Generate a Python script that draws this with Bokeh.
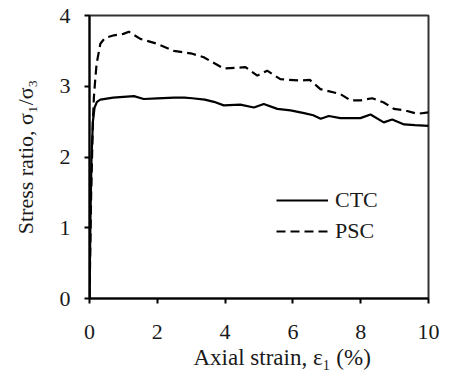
from bokeh.plotting import figure
from bokeh.embed import file_html
from bokeh.resources import INLINE
from bokeh.models import Range1d, FixedTicker, Legend, LegendItem, Title

# Data
ctc_strain = [0.0, 0.03, 0.06, 0.10, 0.15, 0.22, 0.32, 0.7, 1.0, 1.31, 1.6, 2.0, 2.5, 2.8, 3.03, 3.4, 3.67,
              3.96, 4.45, 4.85, 5.14, 5.54, 5.93, 6.33, 6.6, 6.82, 7.06, 7.4, 7.99, 8.29, 8.68, 8.93, 9.28, 9.6, 10.0]
ctc_ratio = [0.0, 1.2, 2.0, 2.5, 2.7, 2.78, 2.81, 2.84, 2.85, 2.86, 2.82, 2.83, 2.84, 2.84, 2.83, 2.81, 2.78,
             2.73, 2.74, 2.70, 2.75, 2.68, 2.66, 2.62, 2.59, 2.54, 2.58, 2.55, 2.55, 2.60, 2.49, 2.53, 2.46, 2.45, 2.44]

psc_strain = [0.0, 0.05, 0.10, 0.13, 0.17, 0.21, 0.32, 0.45, 0.72, 1.0, 1.16, 1.5, 2.0, 2.49, 3.03, 3.37,
              3.96, 4.3, 4.6, 4.95, 5.24, 5.63, 6.22, 6.5, 6.81, 7.4, 7.7, 7.99, 8.34, 8.68, 8.98, 9.3, 9.67, 10.0]
psc_ratio = [0.0, 1.5, 2.5, 2.85, 3.1, 3.32, 3.6, 3.68, 3.72, 3.74, 3.77, 3.67, 3.60, 3.50, 3.46, 3.41,
             3.25, 3.26, 3.27, 3.15, 3.22, 3.10, 3.08, 3.09, 2.96, 2.89, 2.80, 2.80, 2.83, 2.77, 2.68, 2.66, 2.61, 2.63]

x_ticks = [0, 2, 4, 6, 8, 10]
y_ticks = [0, 1, 2, 3, 4]

FONT = "Liberation Serif"

p = figure(width=474, height=376, output_backend="svg", toolbar_location=None,
           x_range=Range1d(0, 10), y_range=Range1d(0, 4),
           min_border_left=89, min_border_right=46, min_border_top=15, min_border_bottom=78)
p.background_fill_color = "white"
p.border_fill_color = "white"
p.grid.visible = False
p.outline_line_color = "#333333"
p.outline_line_width = 2
p.outline_line_alpha = 1

for ax in (p.xaxis[0], p.yaxis[0]):
    ax.axis_line_color = "black"
    ax.axis_line_width = 2
    ax.major_tick_line_color = "black"
    ax.major_tick_line_width = 2
    ax.major_tick_in = 0
    ax.major_tick_out = 5
    ax.minor_tick_line_color = None
    ax.major_label_text_font = FONT
    ax.major_label_text_font_size = "22px"
    ax.major_label_text_color = "#1a1a1a"
    ax.axis_label_text_font = FONT
    ax.axis_label_text_font_size = "22px"
    ax.axis_label_text_font_style = "normal"
    ax.axis_label_text_color = "#1a1a1a"

p.xaxis.ticker = FixedTicker(ticks=x_ticks)
p.yaxis.ticker = FixedTicker(ticks=y_ticks)
p.xaxis.major_label_standoff = 21
p.yaxis.major_label_standoff = 14
p.yaxis.axis_label = "Stress ratio, σ₁/σ₃"
p.yaxis.axis_label_standoff = 19

xtitle = Title(text="Axial strain, ε₁ (%)", align="left", offset=104, standoff=2,
               text_font=FONT, text_font_size="23px", text_font_style="normal", text_color="#1a1a1a")
p.add_layout(xtitle, "below")

r1 = p.line(ctc_strain, ctc_ratio, line_color="black", line_width=2.2)
r2 = p.line(psc_strain, psc_ratio, line_color="black", line_width=2.2, line_dash="9 5")

legend = Legend(items=[LegendItem(label="CTC", renderers=[r1]), LegendItem(label="PSC", renderers=[r2])],
                location=(187, 54), glyph_width=52, glyph_height=20, label_height=20, spacing=5,
                padding=0, margin=0, label_standoff=7,
                label_text_font=FONT, label_text_font_size="22px", label_text_color="#1a1a1a",
                border_line_color=None, background_fill_alpha=0)
p.add_layout(legend)

open("out.html", "w").write(file_html(p, INLINE))
